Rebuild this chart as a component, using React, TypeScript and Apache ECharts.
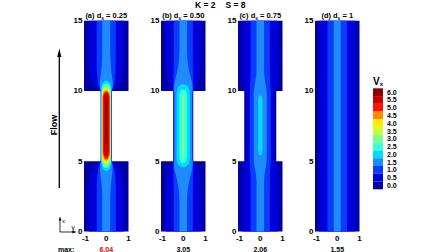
import React, { useEffect, useRef } from "react";
import * as echarts from "echarts";

const FONT = '"Liberation Sans", Arial, Helvetica, sans-serif';

// ---- text data ----
const panelLetters = ["(a)", "(b)", "(c)", "(d)"];
const dsValues = ["0.25", "0.50", "0.75", "1"];
const maxValues = ["6.04", "3.05", "2.06", "1.55"];
const maxColors = ["#e00000", "#000", "#000", "#000"];
const xRange = [-1, 1];
const yRange = [0, 15];

// colour legend (top -> bottom); a swatch labelled L colours values in [L, L + 0.5)
const legendLabels = ["6.0", "5.5", "5.0", "4.5", "4.0", "3.5", "3.0", "2.5", "2.0", "1.5", "1.0", "0.5", "0.0"];
const legendColors = [
  "#8c0000", "#c80000", "#ff1400", "#ff8c00", "#ffeb00", "#c8ff3c", "#78ff8c",
  "#3cffd2", "#00dcff", "#1e8cff", "#0a3cff", "#0000dc", "#0000a5",
];

// ---- contour regions: value >= level, outline as [halfWidth, y] (mirrored about x = 0) ----
const levelsA = [0, 0.5, 1.0, 1.5, 2.0, 2.5, 3.0, 3.5, 4.0, 4.5, 5.0, 5.5, 6.0];
const outlinesA = [
  [[1, 0], [1, 5], [0.25, 5], [0.25, 10], [1, 10], [1, 15]],
  [[0.79, 0], [0.79, 2.8], [0.77, 3.5], [0.7, 4.1], [0.56, 4.6], [0.4, 4.88], [0.245, 5.0], [0.242, 5.15], [0.242, 9.85], [0.245, 10.0], [0.4, 10.12], [0.56, 10.4], [0.7, 10.9], [0.77, 11.6], [0.79, 12.3], [0.79, 15]],
  [[0.43, 0], [0.43, 3.0], [0.42, 3.7], [0.38, 4.3], [0.31, 4.75], [0.245, 5.0], [0.235, 5.2], [0.235, 9.8], [0.245, 10.0], [0.31, 10.25], [0.38, 10.7], [0.42, 11.3], [0.43, 12.0], [0.43, 15]],
  [[0.18, 0], [0.18, 2.4], [0.2, 3.2], [0.25, 3.9], [0.28, 4.4], [0.27, 4.8], [0.24, 5.0], [0.228, 5.25], [0.228, 9.75], [0.24, 10.0], [0.28, 10.2], [0.3, 10.5], [0.27, 10.9], [0.22, 11.5], [0.19, 12.2], [0.18, 13], [0.18, 15]],
  [[0, 4.3], [0.1, 4.35], [0.17, 4.5], [0.21, 4.75], [0.22, 5.0], [0.22, 5.3], [0.22, 9.7], [0.22, 10.0], [0.22, 10.3], [0.18, 10.55], [0.1, 10.7], [0, 10.75]],
  [[0, 4.5], [0.1, 4.56], [0.17, 4.75], [0.21, 5.0], [0.21, 9.7], [0.21, 10.1], [0.16, 10.38], [0.08, 10.5], [0, 10.55]],
  [[0, 4.65], [0.1, 4.72], [0.17, 4.9], [0.2, 5.15], [0.2, 9.75], [0.17, 10.15], [0.08, 10.35], [0, 10.4]],
  [[0, 4.78], [0.1, 4.86], [0.16, 5.05], [0.19, 5.3], [0.19, 9.75], [0.15, 10.05], [0.07, 10.22], [0, 10.27]],
  [[0, 4.9], [0.1, 5.0], [0.15, 5.18], [0.178, 5.4], [0.178, 9.7], [0.14, 9.98], [0.06, 10.12], [0, 10.16]],
  [[0, 5.02], [0.09, 5.12], [0.14, 5.3], [0.165, 5.5], [0.165, 9.65], [0.13, 9.9], [0.06, 10.03], [0, 10.06]],
  [[0, 5.15], [0.08, 5.25], [0.12, 5.42], [0.15, 5.6], [0.15, 9.6], [0.11, 9.82], [0.05, 9.94], [0, 9.97]],
  [[0, 5.3], [0.07, 5.4], [0.1, 5.6], [0.115, 5.8], [0.115, 9.5], [0.09, 9.72], [0.05, 9.84], [0, 9.87]],
  [[0, 6.2], [0.03, 6.5], [0.04, 7.0], [0.04, 8.8], [0.03, 9.2], [0, 9.4]],
];

const levelsB = [0, 0.5, 1.0, 1.5, 2.0, 2.5, 3.0];
const outlinesB = [
  [[1, 0], [1, 5], [0.45, 5], [0.45, 10], [1, 10], [1, 15]],
  [[0.8, 0], [0.8, 3.0], [0.78, 3.7], [0.72, 4.2], [0.6, 4.65], [0.47, 4.96], [0.445, 5.0], [0.435, 5.2], [0.435, 9.8], [0.445, 10.0], [0.47, 10.04], [0.6, 10.35], [0.72, 10.8], [0.78, 11.3], [0.8, 12.0], [0.8, 15]],
  [[0.43, 0], [0.43, 3.2], [0.44, 3.9], [0.445, 4.5], [0.44, 5.0], [0.42, 5.3], [0.42, 9.7], [0.44, 10.0], [0.445, 10.5], [0.44, 11.1], [0.43, 11.8], [0.43, 15]],
  [[0.17, 0], [0.17, 2.0], [0.18, 2.6], [0.22, 3.2], [0.3, 3.8], [0.38, 4.3], [0.42, 4.7], [0.42, 4.95], [0.4, 5.1], [0.4, 9.9], [0.42, 10.05], [0.42, 10.3], [0.38, 10.7], [0.3, 11.2], [0.22, 11.8], [0.18, 12.4], [0.17, 13], [0.17, 15]],
  [[0, 4.55], [0.12, 4.6], [0.22, 4.75], [0.28, 4.95], [0.3, 5.2], [0.3, 9.8], [0.28, 10.05], [0.22, 10.3], [0.12, 10.45], [0, 10.5]],
  [[0, 4.85], [0.08, 4.9], [0.14, 5.05], [0.17, 5.3], [0.17, 9.7], [0.14, 9.95], [0.08, 10.07], [0, 10.1]],
  [[0, 5.35], [0.04, 5.5], [0.05, 5.8], [0.05, 9.4], [0.04, 9.65], [0, 9.75]],
];

const levelsC = [0, 0.5, 1.0, 1.5, 2.0];
const outlinesC = [
  [[1, 0], [1, 5], [0.72, 5], [0.72, 10], [1, 10], [1, 15]],
  [[0.8, 0], [0.8, 3.5], [0.78, 4.2], [0.73, 4.7], [0.66, 5.0], [0.62, 5.4], [0.62, 9.6], [0.66, 10.0], [0.73, 10.3], [0.78, 10.8], [0.8, 11.5], [0.8, 15]],
  [[0.43, 0], [0.43, 3.8], [0.45, 4.4], [0.47, 5.0], [0.47, 10.0], [0.45, 10.6], [0.43, 11.2], [0.43, 15]],
  [[0.17, 0], [0.17, 3.6], [0.19, 4.0], [0.24, 4.5], [0.28, 4.9], [0.29, 5.2], [0.29, 9.8], [0.28, 10.1], [0.24, 10.5], [0.19, 11.0], [0.17, 11.4], [0.17, 15]],
  [[0, 5.4], [0.06, 5.5], [0.1, 5.8], [0.1, 9.3], [0.06, 9.6], [0, 9.7]],
];

const levelsD = [0, 0.5, 1.0, 1.5];
const outlinesD = [
  [[1, 0], [1, 15]],
  [[0.81, 0], [0.81, 15]],
  [[0.44, 0], [0.44, 15]],
  [[0.155, 0], [0.155, 15]],
];

const panelLevels = [levelsA, levelsB, levelsC, levelsD];
const panelOutlines = [outlinesA, outlinesB, outlinesC, outlinesD];

// ---- layout ----
const GRID_LEFT = [84, 161, 238, 315];
const GRID_TOP = 20.7;
const GRID_W = 44.5;
const GRID_H = 210.8;

function makeRenderItem(outlines: number[][][]) {
  return (params: any, api: any) => {
    const k = api.value(1);
    const pts = outlines[k];
    const right = pts.map((p) => api.coord([p[0], p[1]]));
    const left = pts
      .slice()
      .reverse()
      .map((p) => api.coord([-p[0], p[1]]));
    return {
      type: "polygon",
      shape: { points: right.concat(left) },
      style: { fill: api.visual("color"), stroke: null },
    };
  };
}

export default function App() {
  const ref = useRef<HTMLDivElement>(null);

  useEffect(() => {
    if (!ref.current) return;
    const chart = echarts.init(ref.current, null, { renderer: "svg" });

    const grids = GRID_LEFT.map((l) => ({ left: l, top: GRID_TOP, width: GRID_W, height: GRID_H }));
    const axisLabel = { fontSize: 8, fontWeight: "bold", color: "#000", fontFamily: FONT };
    const xAxes = GRID_LEFT.map((_, i) => ({
      type: "value",
      gridIndex: i,
      min: xRange[0],
      max: xRange[1],
      interval: 1,
      axisLine: { show: false },
      axisTick: { show: false },
      splitLine: { show: false },
      axisLabel: {
        ...axisLabel,
        margin: 2.5,
        formatter: (v: number) => (v < 0 ? `{l|${v}}` : `${v}`),
        rich: { l: { ...axisLabel, padding: [0, 0, 0, 3] } },
      },
    }));
    const yAxes = GRID_LEFT.map((_, i) => ({
      type: "value",
      gridIndex: i,
      min: yRange[0],
      max: yRange[1],
      interval: 5,
      axisLine: { show: false },
      axisTick: { show: false },
      splitLine: { show: false },
      axisLabel: { ...axisLabel, margin: 1.5 },
    }));

    const series = panelOutlines.map((outs, i) => ({
      type: "custom",
      xAxisIndex: i,
      yAxisIndex: i,
      silent: true,
      clip: false,
      renderItem: makeRenderItem(outs),
      data: panelLevels[i].map((lv, k) => [lv, k]),
    }));

    const pieces = legendLabels.map((lab, i) => {
      const lower = parseFloat(lab);
      return { gte: lower, lt: lower + 0.5, label: lab, color: legendColors[i] };
    });

    const txt = (x: number, y: number, text: string, size: number, extra: any = {}) => ({
      type: "text",
      x,
      y,
      silent: true,
      style: {
        text,
        fontSize: size,
        fontWeight: "bold",
        fontFamily: FONT,
        fill: "#000",
        align: "center",
        verticalAlign: "middle",
        ...extra,
      },
    });

    const graphics: any[] = [];
    graphics.push(txt(195, 5, "K = 2", 8.5, { align: "left" }));
    graphics.push(txt(225.5, 5, "S = 8", 8.5, { align: "left" }));
    GRID_LEFT.forEach((l, i) => {
      graphics.push({
        type: "text",
        x: l + GRID_W / 2,
        y: 15.5,
        silent: true,
        style: {
          text: `{n|${panelLetters[i]} d}{s|s}{n| = ${dsValues[i]}}`,
          align: "center",
          verticalAlign: "middle",
          fill: "#000",
          rich: {
            n: { fontSize: 7.5, fontWeight: "bold", fontFamily: FONT, fill: "#000" },
            s: { fontSize: 5, fontWeight: "bold", fontFamily: FONT, fill: "#000", padding: [4, 0, 0, 0] },
          },
        },
      });
      graphics.push(txt(l + GRID_W / 2, 249, maxValues[i], 7, { fill: maxColors[i] }));
    });
    graphics.push(txt(58, 249, "max:", 7, { align: "left" }));

    // flow arrow
    graphics.push({
      type: "line",
      silent: true,
      shape: { x1: 59.3, y1: 188, x2: 59.3, y2: 56 },
      style: { stroke: "#000", lineWidth: 1.3 },
    });
    graphics.push({
      type: "polygon",
      silent: true,
      shape: { points: [[59.3, 48.5], [57.2, 57], [61.4, 57]] },
      style: { fill: "#000" },
    });
    graphics.push({
      ...txt(53.5, 125, "Flow", 9),
      rotation: Math.PI / 2,
    });

    // small coordinate icon
    graphics.push({
      type: "polyline",
      silent: true,
      shape: { points: [[60, 219], [60, 232], [74, 232]] },
      style: { stroke: "#000", lineWidth: 0.8, fill: null },
    });
    graphics.push({
      type: "polygon",
      silent: true,
      shape: { points: [[60, 216.5], [58.6, 220.5], [61.4, 220.5]] },
      style: { fill: "#000" },
    });
    graphics.push({
      type: "polygon",
      silent: true,
      shape: { points: [[76.5, 232], [72.5, 230.6], [72.5, 233.4]] },
      style: { fill: "#000" },
    });
    graphics.push(txt(63.5, 220.5, "x", 6, { fontWeight: "normal" }));
    graphics.push(txt(73, 227, "y", 6.5, { fontWeight: "normal" }));

    // legend title
    graphics.push({
      type: "text",
      x: 373,
      y: 81,
      silent: true,
      style: {
        text: "{v|V}{s|x}",
        verticalAlign: "middle",
        align: "left",
        rich: {
          v: { fontSize: 10, fontWeight: "bold", fontFamily: FONT, fill: "#000" },
          s: { fontSize: 6, fontWeight: "bold", fontFamily: FONT, fill: "#000", padding: [5, 0, 0, 0] },
        },
      },
    });

    chart.setOption({
      animation: false,
      backgroundColor: "#fff",
      grid: grids,
      xAxis: xAxes,
      yAxis: yAxes,
      visualMap: {
        type: "piecewise",
        orient: "vertical",
        left: 373,
        top: 88.3,
        padding: 0,
        itemWidth: 10,
        itemHeight: 7.77,
        itemGap: 0,
        itemSymbol: "rect",
        textGap: 4,
        align: "left",
        selectedMode: false,
        hoverLink: false,
        dimension: 0,
        seriesIndex: [0, 1, 2, 3],
        textStyle: { fontSize: 7, fontWeight: "bold", color: "#000", fontFamily: FONT },
        pieces,
      },
      graphic: graphics,
      series,
    });

    return () => chart.dispose();
  }, []);

  return (
    <div
      ref={ref}
      style={{ position: "fixed", left: 0, top: 0, width: 448, height: 252, background: "#fff" }}
    />
  );
}
